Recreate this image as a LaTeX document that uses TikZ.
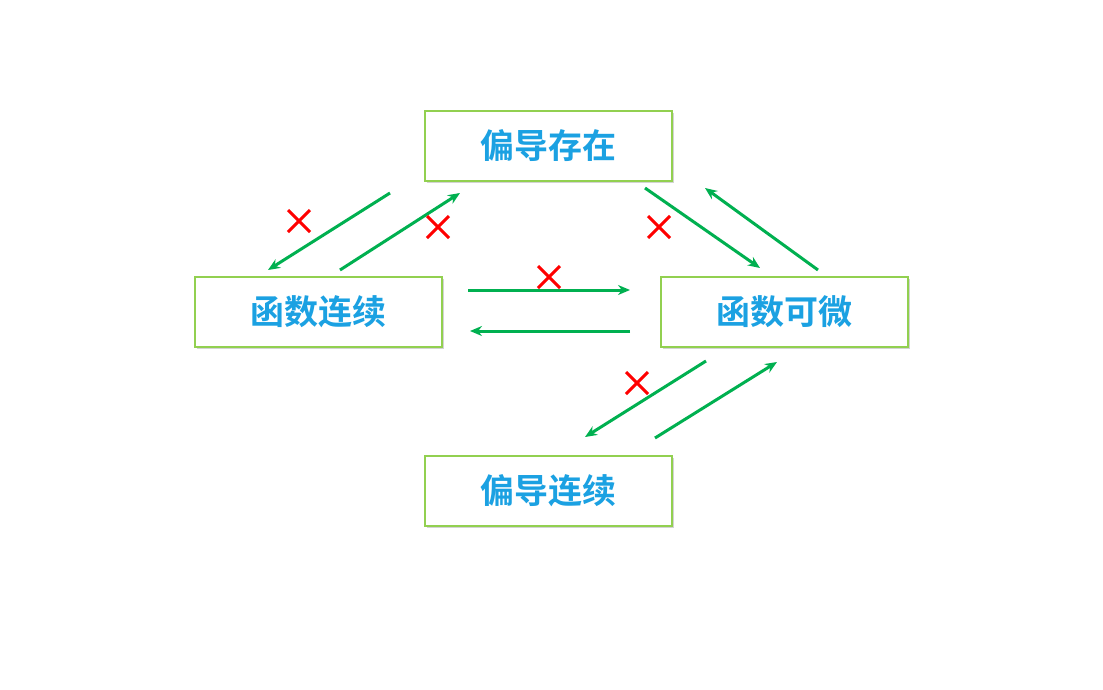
\documentclass[tikz,border=0pt]{standalone}
\usepackage{fontspec}
\newfontfamily\cjk{Noto Sans CJK SC}[BoldFont={* Bold}]
\usetikzlibrary{shadows,arrows.meta}
\definecolor{gbox}{HTML}{92D050}
\definecolor{garr}{HTML}{00B050}
\definecolor{tblue}{HTML}{1BA1E2}
\tikzset{
 box/.style={draw=gbox,line width=2pt,fill=white,minimum width=247pt,minimum height=70pt,
  drop shadow={opacity=0.35,shadow xshift=2pt,shadow yshift=-2pt},
  font=\cjk\bfseries\fontsize{34}{34}\selectfont,text=tblue},
 arr/.style={draw=garr,line width=3pt,-{Stealth[length=12pt,width=10pt]}},
 nox/.style={draw=red,line width=3pt}
}
\newcommand{\xmark}[1]{\draw[nox] ($#1+(-11,-11)$) -- ($#1+(11,11)$) ($#1+(-11,11)$) -- ($#1+(11,-11)$);}
\usetikzlibrary{calc}
\begin{document}
\begin{tikzpicture}[x=1pt,y=-1pt]
\useasboundingbox (0,0) rectangle (1103,689);
\node[box] (pd) at (548.5,146) {偏导存在};
\node[box] (lx) at (318.5,312) {函数连续};
\node[box] (kw) at (784,312) {函数可微};
\node[box] (pl) at (548.5,491) {偏导连续};
\coordinate (a1) at (390,193); \coordinate (a2) at (268,270);
\coordinate (b1) at (340,270); \coordinate (b2) at (460,193);
\coordinate (c1) at (645,188); \coordinate (c2) at (760,268);
\coordinate (d1) at (818,270); \coordinate (d2) at (705,188);
\coordinate (e1) at (468,290); \coordinate (e2) at (630,290);
\coordinate (f1) at (630,331); \coordinate (f2) at (470,331);
\coordinate (g1) at (706,361); \coordinate (g2) at (585,437);
\coordinate (h1) at (655,438); \coordinate (h2) at (777,362);
\foreach \s/\t in {a1/a2,b1/b2,c1/c2,d1/d2,e1/e2,f1/f2,g1/g2,h1/h2} \draw[arr] (\s) -- (\t);
\xmark{(299,221)}
\xmark{(438,227)}
\xmark{(659,227)}
\xmark{(549,277)}
\xmark{(637,383)}
\end{tikzpicture}
\end{document}
